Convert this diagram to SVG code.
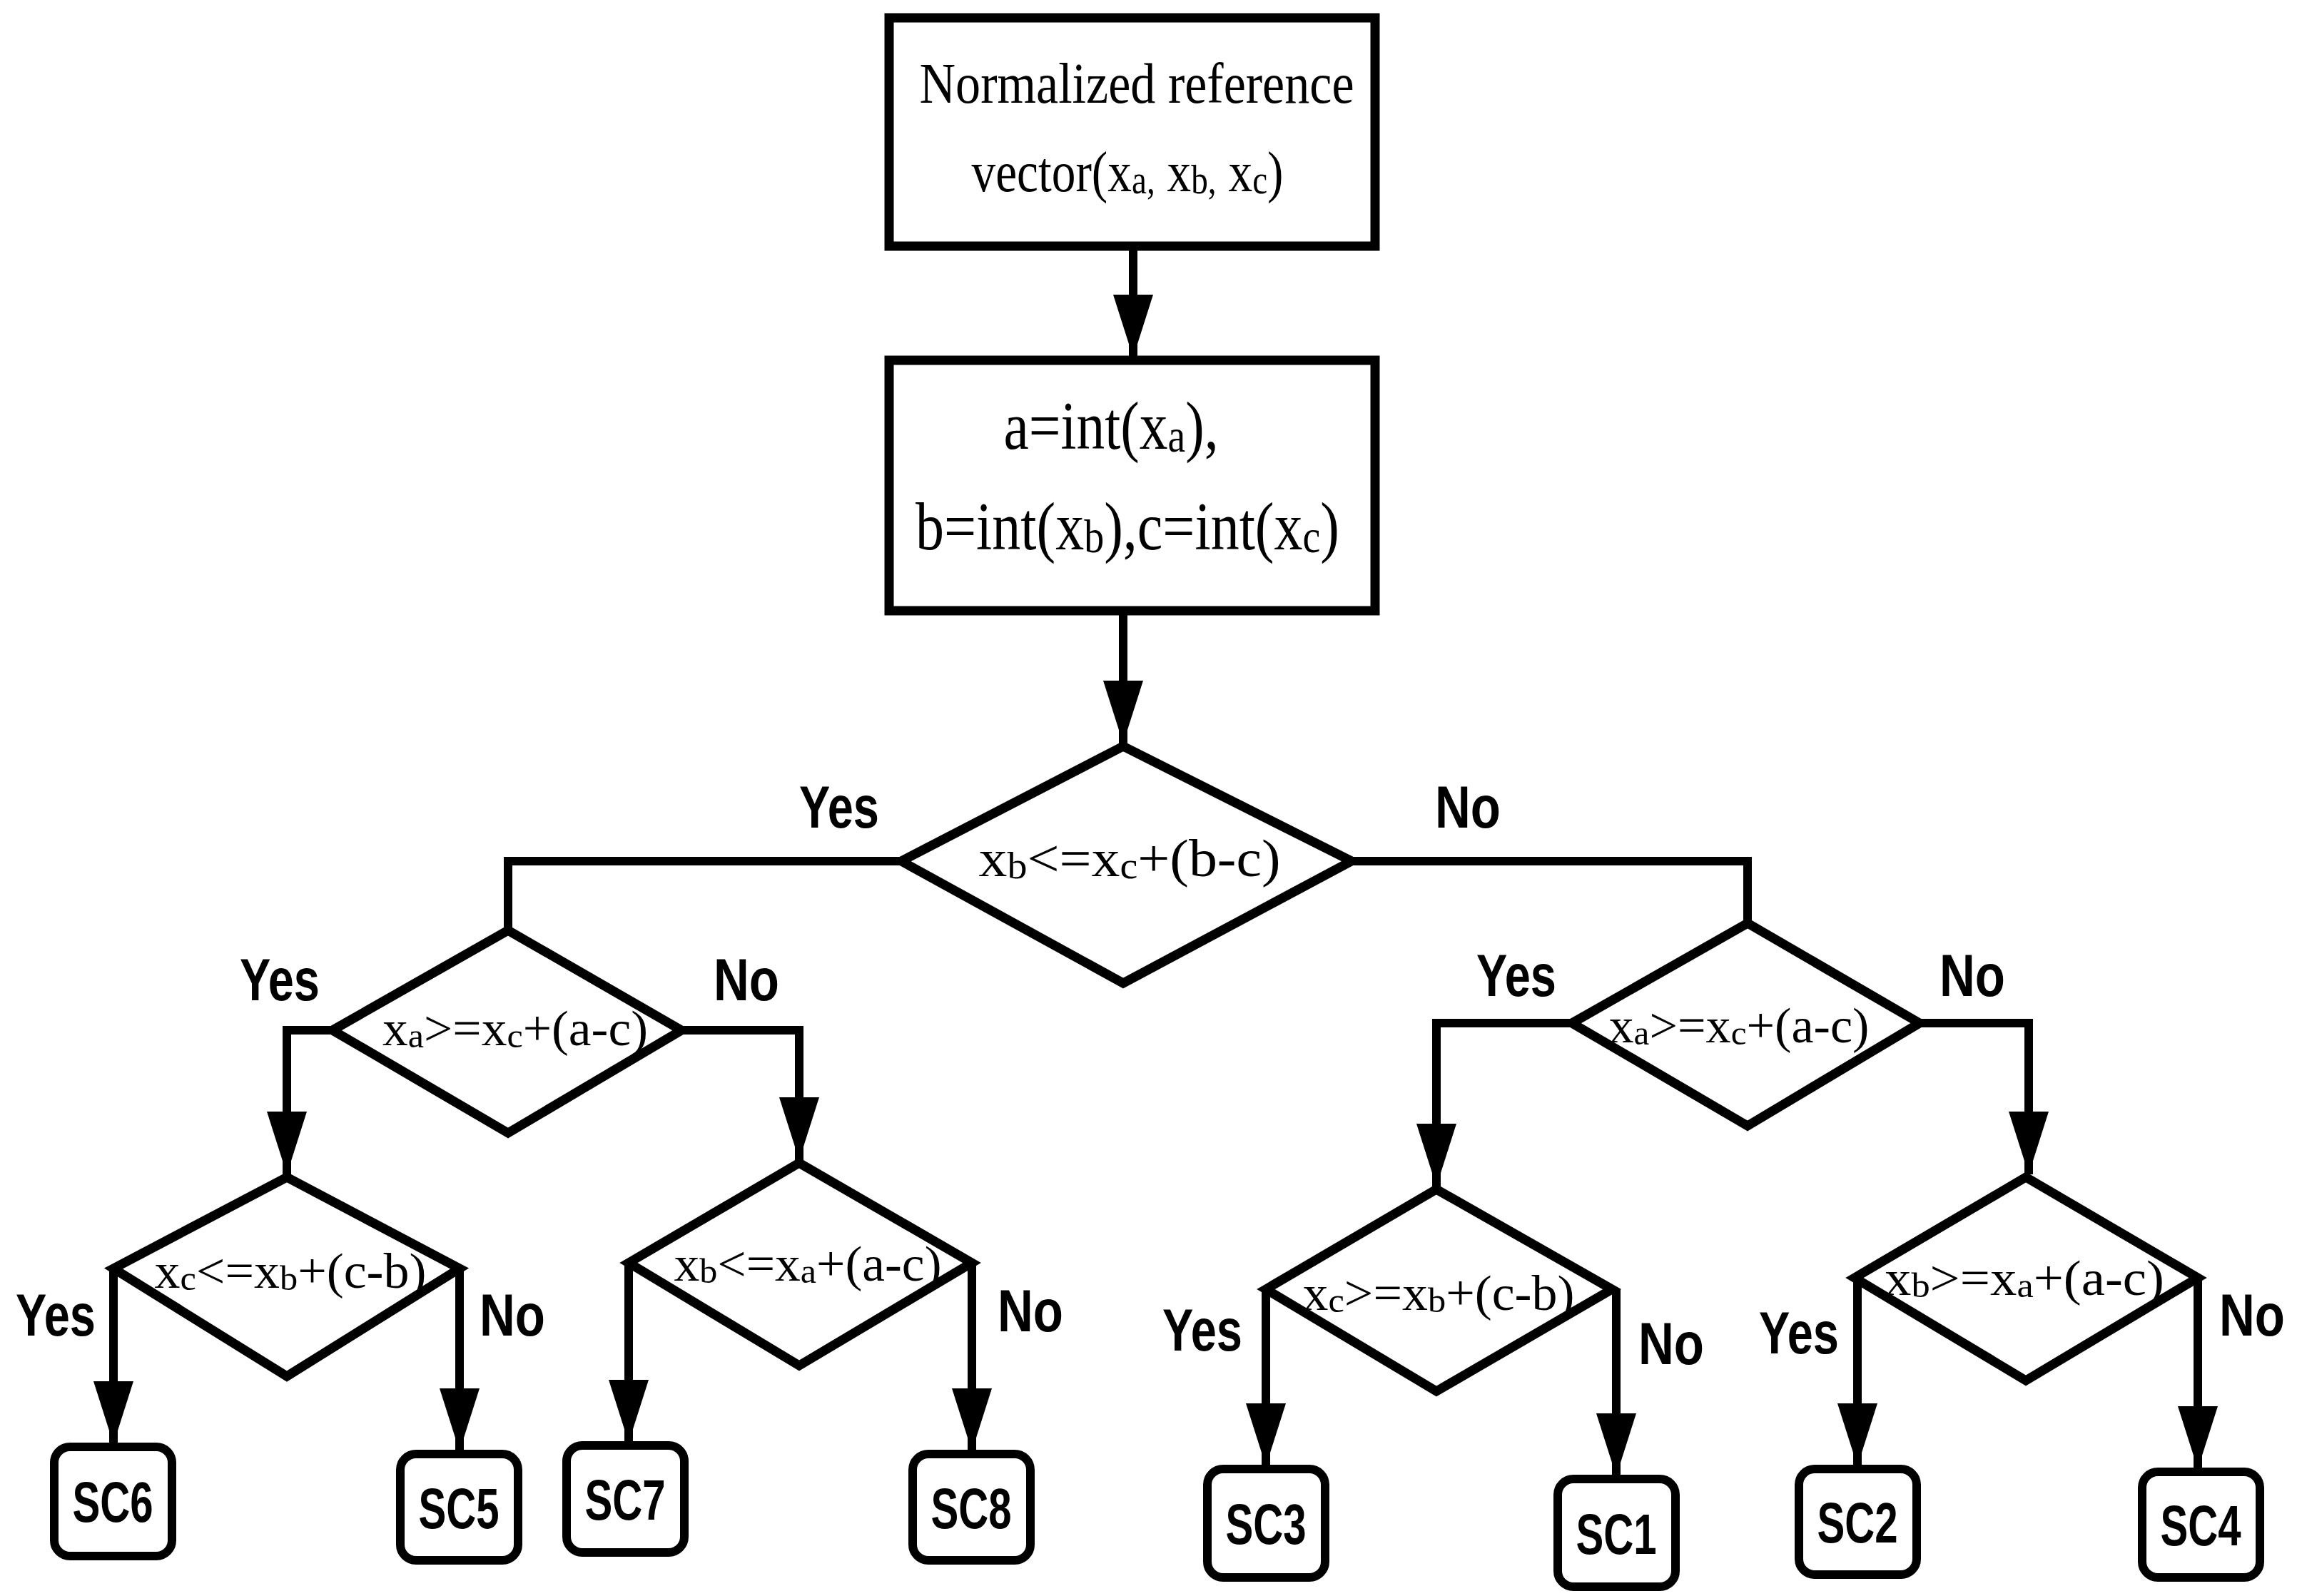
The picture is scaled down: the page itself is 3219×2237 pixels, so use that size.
<svg xmlns="http://www.w3.org/2000/svg" width="3219" height="2237" viewBox="0 0 3219 2237">
<style>
.box{fill:#fff;stroke:#000;stroke-width:13}
.dia{fill:#fff;stroke:#000;stroke-width:13;stroke-linejoin:miter}
.sc{fill:#fff;stroke:#000;stroke-width:12}
.ln{fill:none;stroke:#000;stroke-width:12}
.t{font-family:"Liberation Serif",serif;fill:#000}
.s{font-size:70%;baseline-shift:-6%}
.lab{font-family:"Liberation Sans",sans-serif;font-weight:bold;font-size:84px;fill:#000}
.sct{font-family:"Liberation Sans",sans-serif;font-weight:bold;font-size:80px;fill:#000}
</style>
<defs>
<marker id="ar" markerUnits="userSpaceOnUse" markerWidth="90" markerHeight="60" refX="88" refY="30" orient="auto">
<path d="M0,2 L88,30 L0,58 z" fill="#000"/>
</marker>
</defs>
<rect width="3219" height="2237" fill="#fff"/>
<g id="connectors">
<line class="ln" x1="1588" y1="345" x2="1588" y2="501" marker-end="url(#ar)"/>
<line class="ln" x1="1574" y1="856" x2="1574" y2="1042" marker-end="url(#ar)"/>
<polyline class="ln" points="1263,1207 712,1207 712,1304"/>
<polyline class="ln" points="1894,1207 2449,1207 2449,1294"/>
<polyline class="ln" points="466,1444 402,1444 402,1646" marker-end="url(#ar)"/>
<polyline class="ln" points="955,1444 1120,1444 1120,1626" marker-end="url(#ar)"/>
<polyline class="ln" points="2203,1434 2013,1434 2013,1663" marker-end="url(#ar)"/>
<polyline class="ln" points="2690,1434 2843,1434 2843,1646" marker-end="url(#ar)"/>
<polyline class="ln" points="159,1778 159,2024" marker-end="url(#ar)"/>
<polyline class="ln" points="644,1778 644,2034" marker-end="url(#ar)"/>
<polyline class="ln" points="881,1770 881,2022" marker-end="url(#ar)"/>
<polyline class="ln" points="1362,1770 1362,2034" marker-end="url(#ar)"/>
<polyline class="ln" points="1774,1807 1774,2055" marker-end="url(#ar)"/>
<polyline class="ln" points="2265,1807 2265,2069" marker-end="url(#ar)"/>
<polyline class="ln" points="2603,1791 2603,2055" marker-end="url(#ar)"/>
<polyline class="ln" points="3080,1791 3080,2059" marker-end="url(#ar)"/>
<text class="lab" x="1176" y="1160" text-anchor="middle" textLength="112" lengthAdjust="spacingAndGlyphs">Yes</text>
<text class="lab" x="2057" y="1160" text-anchor="middle" textLength="92" lengthAdjust="spacingAndGlyphs">No</text>
<text class="lab" x="392" y="1402" text-anchor="middle" textLength="112" lengthAdjust="spacingAndGlyphs">Yes</text>
<text class="lab" x="1046" y="1402" text-anchor="middle" textLength="92" lengthAdjust="spacingAndGlyphs">No</text>
<text class="lab" x="2125" y="1396" text-anchor="middle" textLength="112" lengthAdjust="spacingAndGlyphs">Yes</text>
<text class="lab" x="2764" y="1396" text-anchor="middle" textLength="92" lengthAdjust="spacingAndGlyphs">No</text>
<text class="lab" x="78" y="1872" text-anchor="middle" textLength="112" lengthAdjust="spacingAndGlyphs">Yes</text>
<text class="lab" x="718" y="1872" text-anchor="middle" textLength="92" lengthAdjust="spacingAndGlyphs">No</text>
<text class="lab" x="1444" y="1866" text-anchor="middle" textLength="92" lengthAdjust="spacingAndGlyphs">No</text>
<text class="lab" x="1685" y="1893" text-anchor="middle" textLength="112" lengthAdjust="spacingAndGlyphs">Yes</text>
<text class="lab" x="2342" y="1912" text-anchor="middle" textLength="92" lengthAdjust="spacingAndGlyphs">No</text>
<text class="lab" x="2521" y="1897" text-anchor="middle" textLength="112" lengthAdjust="spacingAndGlyphs">Yes</text>
<text class="lab" x="3156" y="1872" text-anchor="middle" textLength="92" lengthAdjust="spacingAndGlyphs">No</text>
</g>
<g id="start">
<rect class="box" x="1246" y="25" width="681" height="320"/>
<text class="t" x="1593" y="144" font-size="80" text-anchor="middle" textLength="609" lengthAdjust="spacingAndGlyphs">Normalized reference</text>
<text class="t" x="1580" y="268" font-size="80" text-anchor="middle" textLength="437" lengthAdjust="spacingAndGlyphs">vector(x<tspan class="s">a,</tspan> x<tspan class="s">b,</tspan> x<tspan class="s">c</tspan>)</text>
</g>
<g id="int">
<rect class="box" x="1246" y="505" width="681" height="351"/>
<text class="t" x="1557" y="629" font-size="95" text-anchor="middle" textLength="301" lengthAdjust="spacingAndGlyphs">a=int(x<tspan class="s">a</tspan>),</text>
<text class="t" x="1580" y="770" font-size="95" text-anchor="middle" textLength="594" lengthAdjust="spacingAndGlyphs">b=int(x<tspan class="s">b</tspan>),c=int(x<tspan class="s">c</tspan>)</text>
</g>
<g id="d0">
<polygon class="dia" points="1263,1207 1574,1046 1894,1207 1574,1378"/>
<text class="t" x="1583" y="1228" font-size="75" text-anchor="middle" textLength="423" lengthAdjust="spacingAndGlyphs">x<tspan class="s">b</tspan>&lt;=x<tspan class="s">c</tspan>+(b-c)</text>
</g>
<g id="dL">
<polygon class="dia" points="466,1444 712,1304 955,1444 712,1588"/>
<text class="t" x="722" y="1465" font-size="70" text-anchor="middle" textLength="372" lengthAdjust="spacingAndGlyphs">x<tspan class="s">a</tspan>&gt;=x<tspan class="s">c</tspan>+(a-c)</text>
</g>
<g id="dR">
<polygon class="dia" points="2203,1434 2449,1294 2690,1434 2449,1578"/>
<text class="t" x="2437" y="1461" font-size="70" text-anchor="middle" textLength="365" lengthAdjust="spacingAndGlyphs">x<tspan class="s">a</tspan>&gt;=x<tspan class="s">c</tspan>+(a-c)</text>
</g>
<g id="dLL">
<polygon class="dia" points="159,1778 402,1650 644,1778 402,1929"/>
<text class="t" x="407" y="1805" font-size="70" text-anchor="middle" textLength="381" lengthAdjust="spacingAndGlyphs">x<tspan class="s">c</tspan>&lt;=x<tspan class="s">b</tspan>+(c-b)</text>
</g>
<g id="dLR">
<polygon class="dia" points="881,1770 1120,1630 1362,1770 1120,1914"/>
<text class="t" x="1132" y="1795" font-size="70" text-anchor="middle" textLength="375" lengthAdjust="spacingAndGlyphs">x<tspan class="s">b</tspan>&lt;=x<tspan class="s">a</tspan>+(a-c)</text>
</g>
<g id="dRL">
<polygon class="dia" points="1774,1807 2013,1667 2259,1807 2013,1950"/>
<text class="t" x="2016" y="1836" font-size="70" text-anchor="middle" textLength="381" lengthAdjust="spacingAndGlyphs">x<tspan class="s">c</tspan>&gt;=x<tspan class="s">b</tspan>+(c-b)</text>
</g>
<g id="dRR">
<polygon class="dia" points="2599,1791 2839,1650 3080,1791 2839,1935"/>
<text class="t" x="2837" y="1815" font-size="70" text-anchor="middle" textLength="392" lengthAdjust="spacingAndGlyphs">x<tspan class="s">b</tspan>&gt;=x<tspan class="s">a</tspan>+(a-c)</text>
</g>
<g id="SC6"><rect class="sc" x="76" y="2028" width="165" height="153" rx="22"/><text class="sct" x="158" y="2133" text-anchor="middle" textLength="113" lengthAdjust="spacingAndGlyphs">SC6</text></g>
<g id="SC5"><rect class="sc" x="561" y="2038" width="165" height="149" rx="22"/><text class="sct" x="643" y="2142" text-anchor="middle" textLength="113" lengthAdjust="spacingAndGlyphs">SC5</text></g>
<g id="SC7"><rect class="sc" x="794" y="2026" width="165" height="150" rx="22"/><text class="sct" x="876" y="2130" text-anchor="middle" textLength="113" lengthAdjust="spacingAndGlyphs">SC7</text></g>
<g id="SC8"><rect class="sc" x="1279" y="2038" width="165" height="149" rx="22"/><text class="sct" x="1361" y="2142" text-anchor="middle" textLength="113" lengthAdjust="spacingAndGlyphs">SC8</text></g>
<g id="SC3"><rect class="sc" x="1692" y="2059" width="165" height="152" rx="22"/><text class="sct" x="1774" y="2164" text-anchor="middle" textLength="113" lengthAdjust="spacingAndGlyphs">SC3</text></g>
<g id="SC1"><rect class="sc" x="2183" y="2073" width="165" height="151" rx="22"/><text class="sct" x="2265" y="2178" text-anchor="middle" textLength="113" lengthAdjust="spacingAndGlyphs">SC1</text></g>
<g id="SC2"><rect class="sc" x="2521" y="2059" width="165" height="148" rx="22"/><text class="sct" x="2603" y="2162" text-anchor="middle" textLength="113" lengthAdjust="spacingAndGlyphs">SC2</text></g>
<g id="SC4"><rect class="sc" x="3002" y="2063" width="165" height="148" rx="22"/><text class="sct" x="3084" y="2166" text-anchor="middle" textLength="113" lengthAdjust="spacingAndGlyphs">SC4</text></g>
</svg>
